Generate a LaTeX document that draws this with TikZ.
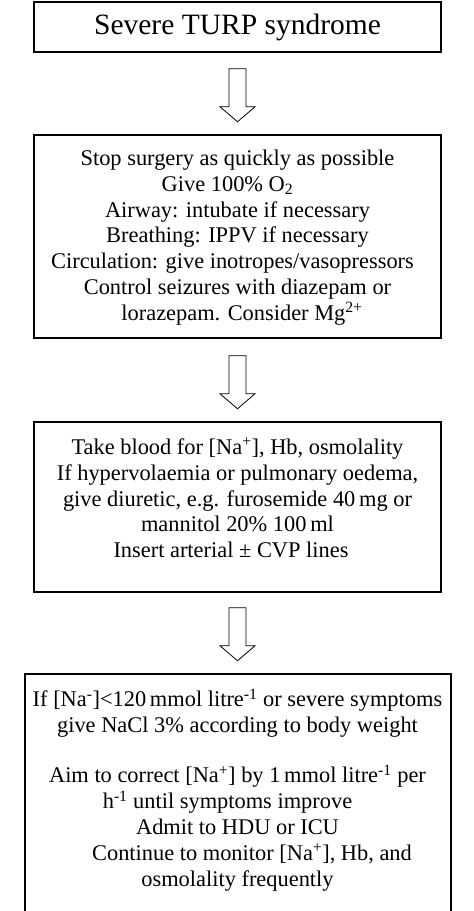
\documentclass[tikz,border=0pt]{standalone}
\usepackage{fontspec}
\setmainfont{Liberation Serif}
\usetikzlibrary{calc}
\tikzset{
  box/.style={draw=black, line width=1.5pt, fill=white, inner sep=0pt},
  txt/.style={align=center, inner sep=0pt, font=\fontsize{22.4}{25.8}\selectfont},
  title/.style={inner sep=0pt, font=\fontsize{29.5}{34}\selectfont},
  blockarrow/.style={draw=black, line width=0.8pt, fill=white, line join=miter}
}
\newcommand{\sh}[1]{\mbox{}\hspace*{#1}}
\begin{document}
\begin{tikzpicture}[x=1pt,y=-1pt]
\useasboundingbox (0,0) rectangle (474,911);
\clip (0,0) rectangle (474,911);
\fill[white] (0,0) rectangle (474,911);
% boxes
\node[box, minimum width=407pt, minimum height=50pt] (b1) at (237.5,27) {};
\node[box, minimum width=407pt, minimum height=203pt] (b2) at (237.5,236.5) {};
\node[box, minimum width=407pt, minimum height=170pt] (b3) at (237.5,507) {};
\node[box, minimum width=426pt, minimum height=260pt] (b4) at (238,804) {};
% texts
\node[title] (t1) at (b1.center) {Severe TURP syndrome};
\node[txt] (t2) at (237.5,237.5) {Stop surgery as quickly as possible\\
Give 100\% O\textsubscript{2}\hspace*{20pt}\mbox{}\\
Airway: intubate if necessary\\
Breathing: IPPV if necessary\\
Circulation: give inotropes/vasopressors\hspace*{10pt}\mbox{}\\
Control seizures with diazepam or\\
\sh{9pt}lorazepam. Consider Mg\textsuperscript{2+}};
\node[txt] (t3) at (237.5,498) {Take blood for [Na\textsuperscript{+}], Hb, osmolality\\
If hypervolaemia or pulmonary oedema,\\
give diuretic, e.g. furosemide 40\,mg or\\
mannitol 20\% 100\,ml\\
Insert arterial ± CVP lines\hspace*{13pt}\mbox{}};
\node[txt] (t4) at (237.5,790) {If [Na\textsuperscript{-}]<120\,mmol litre\textsuperscript{-1} or severe symptoms\\
give NaCl 3\% according to body weight\\[24.5pt]
Aim to correct [Na\textsuperscript{+}] by 1\,mmol litre\textsuperscript{-1} per\\
h\textsuperscript{-1} until symptoms improve\hspace*{20pt}\mbox{}\\
Admit to HDU or ICU\\
\sh{29pt}Continue to monitor [Na\textsuperscript{+}], Hb, and\\
osmolality frequently};
% block arrows
\coordinate (a1) at ($(b1.south)+(0,16)$);
\coordinate (a2) at ($(b2.south)+(0,17)$);
\coordinate (a3) at ($(b3.south)+(0,15)$);
\foreach \a in {a1,a2,a3}{
  \draw[blockarrow] ($(\a)+(-8.5,0)$) -- ++(0,38) -- ++(-9,0) -- ++(17.5,15)
     -- ++(17.5,-15) -- ++(-9,0) -- ++(0,-38) -- cycle;
}
\end{tikzpicture}
\end{document}
